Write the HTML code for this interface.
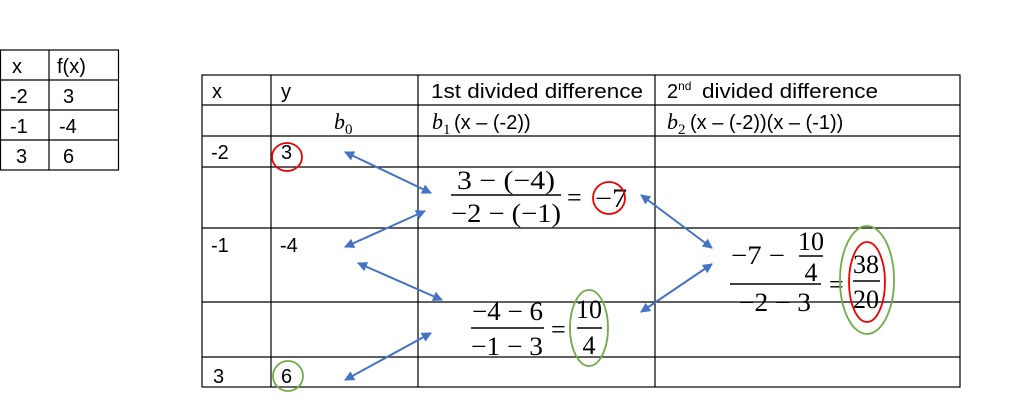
<!DOCTYPE html>
<html><head><meta charset="utf-8"><style>
html,body{margin:0;padding:0;background:#fff;}
svg{display:block;}
text{font-family:"Liberation Sans",sans-serif;fill:#000;}
.m{font-family:"Liberation Serif","DejaVu Serif",serif;}
</style></head><body>
<svg width="1024" height="419" viewBox="0 0 1024 419" xmlns="http://www.w3.org/2000/svg">
<defs>
<marker id="ah" viewBox="0 0 10 10" refX="9" refY="5" markerWidth="5" markerHeight="5" orient="auto-start-reverse">
<path d="M0,0 L10,5 L0,10 z" fill="#4472C4"/></marker>
</defs>
<g stroke="#000" stroke-width="1.2" fill="none">
<rect x="0.5" y="50" width="118" height="120"/>
<line x1="49" y1="50" x2="49" y2="170"/>
<line x1="0" y1="80" x2="118" y2="80"/>
<line x1="0" y1="110" x2="118" y2="110"/>
<line x1="0" y1="140" x2="118" y2="140"/>
</g>
<g font-size="20">
<text x="12" y="73">x</text><text x="57" y="73">f(x)</text>
<text x="10" y="103">-2</text><text x="63" y="103">3</text>
<text x="10" y="133">-1</text><text x="59" y="133">-4</text>
<text x="16" y="163">3</text><text x="63" y="163">6</text>
</g>
<g stroke="#000" stroke-width="1.2" fill="none">
<rect x="202" y="75" width="758" height="312"/>
<line x1="271" y1="75" x2="271" y2="387"/>
<line x1="418" y1="75" x2="418" y2="387"/>
<line x1="655" y1="75" x2="655" y2="387"/>
<line x1="202" y1="105" x2="960" y2="105"/>
<line x1="202" y1="136" x2="960" y2="136"/>
<line x1="202" y1="167" x2="960" y2="167"/>
<line x1="202" y1="228" x2="960" y2="228"/>
<line x1="202" y1="302" x2="960" y2="302"/>
<line x1="202" y1="357" x2="960" y2="357"/>
</g>
<g font-size="20">
<text x="212" y="98">x</text>
<text x="281" y="98">y</text>
<text x="431" y="98" textLength="212" lengthAdjust="spacingAndGlyphs">1st divided difference</text>
<text x="667" y="98">2<tspan font-size="12" dy="-8">nd</tspan></text>
<text x="702" y="98" textLength="176" lengthAdjust="spacingAndGlyphs">divided difference</text>
<text x="211" y="159">-2</text>
<text x="281" y="159">3</text>
<text x="211" y="252">-1</text>
<text x="280" y="252">-4</text>
<text x="213" y="383">3</text>
<text x="281" y="383">6</text>
</g>
<g font-size="22">
<text x="334" y="129" class="m" font-style="italic">b<tspan font-size="15" dy="5" font-style="normal">0</tspan></text>
<text x="432" y="129"><tspan class="m" font-style="italic">b</tspan><tspan class="m" font-size="15" dy="5">1</tspan></text>
<text x="454" y="129" font-size="20">(x – (-2))</text>
<text x="667" y="129"><tspan class="m" font-style="italic">b</tspan><tspan class="m" font-size="15" dy="5">2</tspan></text>
<text x="690" y="129" font-size="20">(x – (-2))(x – (-1))</text>
</g>
<g font-size="26">
<text x="457" y="189" class="m" textLength="98" lengthAdjust="spacingAndGlyphs">3 − (−4)</text>
<line x1="451" y1="195" x2="561" y2="195" stroke="#000" stroke-width="1.5"/>
<text x="451" y="222" class="m" textLength="110" lengthAdjust="spacingAndGlyphs">−2 − (−1)</text>
<text x="567" y="206" class="m">=</text>
<text x="595" y="207" class="m" textLength="32" lengthAdjust="spacingAndGlyphs">−7</text>

<text x="472" y="320" class="m" textLength="71" lengthAdjust="spacingAndGlyphs">−4 − 6</text>
<line x1="471" y1="328" x2="544" y2="328" stroke="#000" stroke-width="1.5"/>
<text x="471" y="355" class="m" textLength="72" lengthAdjust="spacingAndGlyphs">−1 − 3</text>
<text x="551" y="338" class="m">=</text>
<text x="589" y="318" text-anchor="middle" class="m">10</text>
<line x1="577" y1="328" x2="602" y2="328" stroke="#000" stroke-width="1.5"/>
<text x="589" y="354" text-anchor="middle" class="m">4</text>

<text x="731" y="264" class="m" textLength="54" lengthAdjust="spacingAndGlyphs">−7  −</text>
<text x="811" y="250" text-anchor="middle" class="m">10</text>
<line x1="799" y1="256" x2="823" y2="256" stroke="#000" stroke-width="1.5"/>
<text x="811" y="281" text-anchor="middle" class="m">4</text>
<line x1="730" y1="284" x2="821" y2="284" stroke="#000" stroke-width="1.5"/>
<text x="739" y="311" class="m" textLength="72" lengthAdjust="spacingAndGlyphs">−2 − 3</text>
<text x="829" y="293" class="m">=</text>
<text x="866" y="273" text-anchor="middle" class="m">38</text>
<line x1="853" y1="281" x2="880" y2="281" stroke="#000" stroke-width="1.5"/>
<text x="866" y="308" text-anchor="middle" class="m">20</text>
</g>
<g fill="none" stroke-width="1.8">
<ellipse cx="287" cy="157" rx="15" ry="14" stroke="#E00"/>
<ellipse cx="609" cy="198" rx="16" ry="16" stroke="#E00"/>
<ellipse cx="589" cy="328" rx="19" ry="38" stroke="#70AD47"/>
<ellipse cx="867" cy="280" rx="27" ry="54" stroke="#70AD47"/>
<ellipse cx="867" cy="282" rx="18" ry="40" stroke="#E00"/>
<ellipse cx="288" cy="376" rx="15" ry="15" stroke="#70AD47"/>
</g>
<g stroke="#4472C4" stroke-width="2" marker-start="url(#ah)" marker-end="url(#ah)">
<line x1="345" y1="152" x2="431" y2="193"/>
<line x1="345" y1="247" x2="425" y2="211"/>
<line x1="358" y1="263" x2="442" y2="300"/>
<line x1="345" y1="380" x2="431" y2="333"/>
<line x1="641" y1="195" x2="712" y2="248"/>
<line x1="641" y1="312" x2="712" y2="264"/>
</g>
</svg>
</body></html>
